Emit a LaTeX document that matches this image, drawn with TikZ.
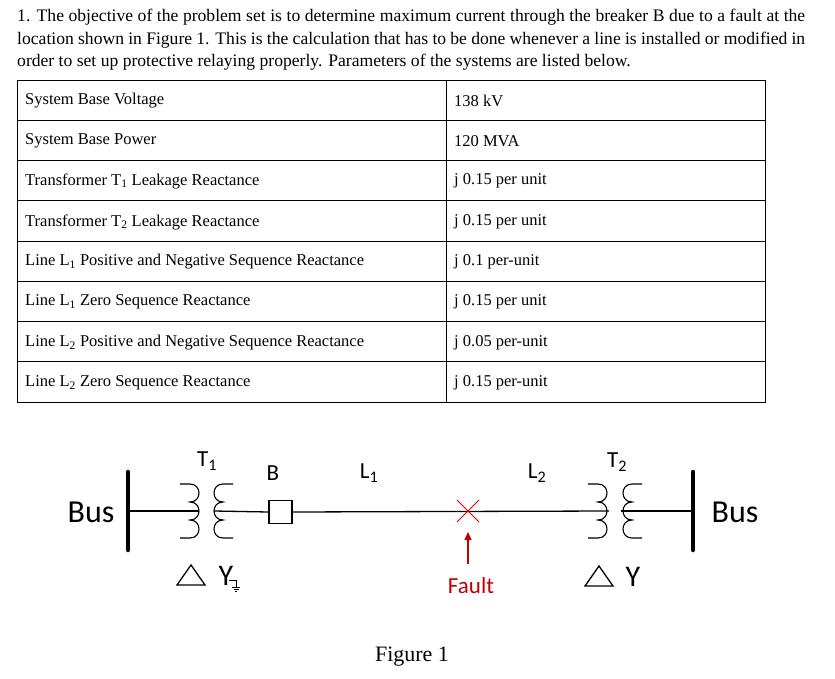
\documentclass[tikz,border=0pt]{standalone}
\usepackage{fontspec}
\setmainfont{Liberation Serif}
\newfontfamily\carl{Carlito}
\usetikzlibrary{arrows.meta}
\begin{document}
\begin{tikzpicture}[x=1pt,y=-1pt,
  body/.style={font=\fontsize{17.6}{20}\selectfont, anchor=west, inner sep=0},
  cell/.style={font=\fontsize{16.5}{19}\selectfont, anchor=west, inner sep=0},
  lbl/.style={font=\carl\fontsize{23}{26}\selectfont, inner sep=0},
  bus/.style={font=\carl\fontsize{32}{34}\selectfont, inner sep=0},
  tri/.style={line width=1.3pt, line join=miter},
  wire/.style={line width=1.3pt},
  coil/.style={line width=1.1pt},
  bar/.style={line width=4.5pt, line cap=round}]
\useasboundingbox (0,0) rectangle (835,679);
\fill[white] (0,0) rectangle (835,679);
% text
\node[body] (p1) at (17,17) {\makebox[788pt][s]{1. The objective of the problem set is to determine maximum current through the breaker B due to a fault at the}};
\node[body] (p2) at (17,40) {\makebox[788pt][s]{location shown in Figure 1. This is the calculation that has to be done whenever a line is installed or modified in}};
\node[body] (p3) at (17,62) {order to set up protective relaying properly. Parameters of the systems are listed below.};
% table
\draw[line width=0.7pt] (17,80) rectangle (765,402);
\draw[line width=0.7pt] (446,80) -- (446,402);
\foreach \yy in {120.25,160.5,200.75,241,281.25,321.5,361.75}
  \draw[line width=0.7pt] (17,\yy) -- (765,\yy);
\node[cell] (a1) at (25,101) {System Base Voltage};
\node[cell] (b1) at (454,101) {138 kV};
\node[cell] (a2) at (25,141) {System Base Power};
\node[cell] (b2) at (454,141) {120 MVA};
\node[cell] (a3) at (25,181) {Transformer T\textsubscript{1} Leakage Reactance};
\node[cell] (b3) at (454,181) {j 0.15 per unit};
\node[cell] (a4) at (25,222) {Transformer T\textsubscript{2} Leakage Reactance};
\node[cell] (b4) at (454,222) {j 0.15 per unit};
\node[cell] (a5) at (25,262) {Line L\textsubscript{1} Positive and Negative Sequence Reactance};
\node[cell] (b5) at (454,262) {j 0.1 per-unit};
\node[cell] (a6) at (25,302) {Line L\textsubscript{1} Zero Sequence Reactance};
\node[cell] (b6) at (454,302) {j 0.15 per unit};
\node[cell] (a7) at (25,343) {Line L\textsubscript{2} Positive and Negative Sequence Reactance};
\node[cell] (b7) at (454,343) {j 0.05 per-unit};
\node[cell] (a8) at (25,383) {Line L\textsubscript{2} Zero Sequence Reactance};
\node[cell] (b8) at (454,383) {j 0.15 per-unit};
% buses
\coordinate (busL) at (128,511);
\coordinate (busR) at (693,511);
\draw[bar] (128,472) -- (128,550);
\draw[bar] (693,472) -- (693,550);
\node[bus] (busLt) at (91,512) {Bus};
\node[bus] (busRt) at (735,512) {Bus};
% T1 coils
\coordinate (t1a) at (199,511);
\coordinate (t1b) at (214,511);
\draw[coil] (180,484) -- (190,484)
  .. controls (202,484) and (202,502) .. (190,502)
  .. controls (202,502) and (202,520) .. (190,520)
  .. controls (202,520) and (202,538) .. (190,538) -- (180,538);
\draw[coil] (233,484) -- (223,484)
  .. controls (211,484) and (211,502) .. (223,502)
  .. controls (211,502) and (211,520) .. (223,520)
  .. controls (211,520) and (211,538) .. (223,538) -- (233,538);
% T2 coils
\coordinate (t2a) at (609,511);
\coordinate (t2b) at (621,511);
\draw[coil] (588,484) -- (598,484)
  .. controls (610,484) and (610,502) .. (598,502)
  .. controls (610,502) and (610,520) .. (598,520)
  .. controls (610,520) and (610,538) .. (598,538) -- (588,538);
\draw[coil] (642,484) -- (632,484)
  .. controls (620,484) and (620,502) .. (632,502)
  .. controls (620,502) and (620,520) .. (632,520)
  .. controls (620,520) and (620,538) .. (632,538) -- (642,538);
% breaker
\node[draw, line width=1.1pt, minimum width=23pt, minimum height=23pt, inner sep=0] (B) at (280.5,512) {};
% wires
\draw[wire] (busL) -- (t1a);
\draw[wire] (t1b) -- (B.west);
\draw[wire] (B.east) -- (t2a);
\draw[wire] (t2b) -- (busR);
% fault
\coordinate (F) at (468,511);
\draw[red!85!black, line width=1pt] (457,500) -- (479,522) (457,522) -- (479,500);
\node[lbl, text=red!75!black] (Ft) at (471,586) {Fault};
\coordinate (Fa) at (468,564);
\draw[red!75!black, line width=1.3pt, -{Triangle[length=8pt,width=7pt]}] (Fa) -- (468,532);
% labels
\node[lbl] (T1) at (207,461) {T\textsubscript{1}};
\node[lbl] (Bl) at (273,473) {B};
\node[lbl] (L1) at (369,473) {L\textsubscript{1}};
\node[lbl] (L2) at (537,473) {L\textsubscript{2}};
\node[lbl] (T2) at (617,462) {T\textsubscript{2}};
% winding symbols
\draw[tri] (177,585) -- (205,585) -- (191,565) -- cycle;
\node[font=\carl\fontsize{30}{32}\selectfont, inner sep=0] (y1) at (226,576) {Y};
\draw[line width=0.9pt] (229,580) -- (236,580) -- (236,587);
\draw[line width=0.8pt] (232,587) -- (240,587) (233.5,589) -- (238.5,589) (235,591) -- (237,591);
\draw[tri] (585,586) -- (613,586) -- (599,566) -- cycle;
\node[font=\carl\fontsize{30}{32}\selectfont, inner sep=0] (y2) at (633,577) {Y};
\node[font=\fontsize{22}{24}\selectfont, inner sep=0] (fig) at (412,657) {Figure 1};
\end{tikzpicture}
\end{document}
